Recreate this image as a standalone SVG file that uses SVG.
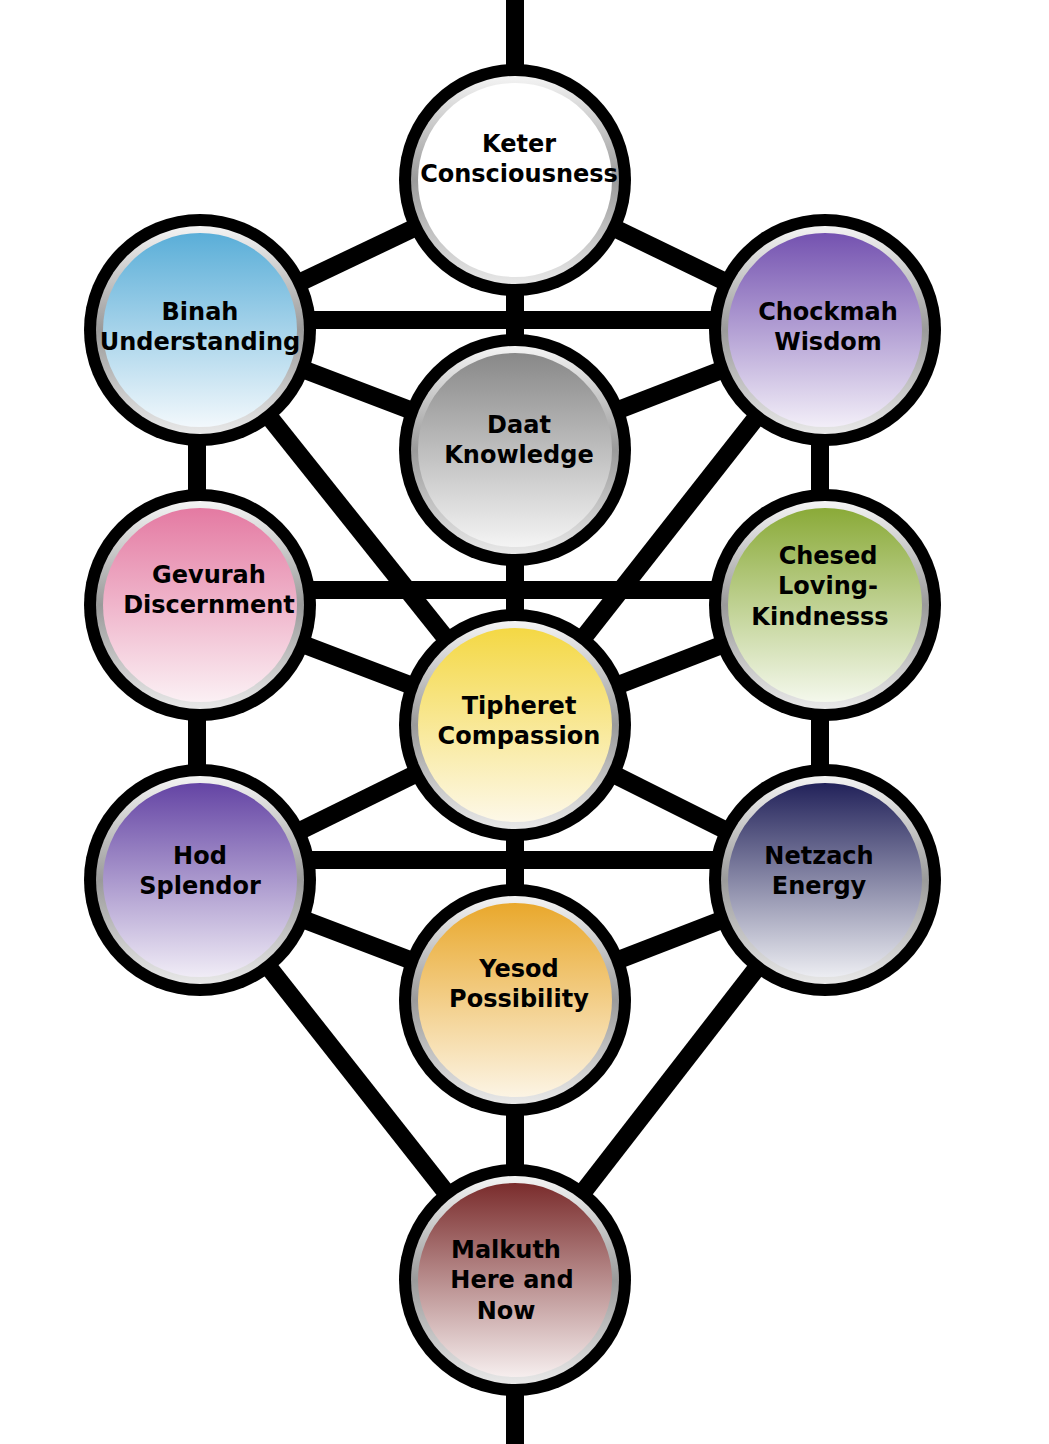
<svg xmlns="http://www.w3.org/2000/svg" width="1049" height="1444" viewBox="0 0 1049 1444">
<style>
.e{stroke:#000;stroke-width:18;fill:none}
.o{fill:#000}
.r{fill:url(#ring)}
text{font-family:"DejaVu Sans",Verdana,sans-serif;font-weight:bold;font-size:24px;fill:#000;text-anchor:middle}
</style>
<defs>
<linearGradient id="ring" x1="0" y1="0" x2="0" y2="1"><stop offset="0" stop-color="#f4f4f4"/><stop offset="0.5" stop-color="#9a9a9a"/><stop offset="1" stop-color="#e8e8e8"/></linearGradient>
<linearGradient id="gK" x1="0" y1="0" x2="0" y2="1"><stop offset="0" stop-color="#fff"/><stop offset="1" stop-color="#fff"/></linearGradient>
<linearGradient id="gB" x1="0" y1="0" x2="0" y2="1"><stop offset="0" stop-color="#5aaed8"/><stop offset="1" stop-color="#f2f8fc"/></linearGradient>
<linearGradient id="gC" x1="0" y1="0" x2="0" y2="1"><stop offset="0" stop-color="#7452b0"/><stop offset="1" stop-color="#f2eef8"/></linearGradient>
<linearGradient id="gD" x1="0" y1="0" x2="0" y2="1"><stop offset="0" stop-color="#888"/><stop offset="1" stop-color="#f4f4f4"/></linearGradient>
<linearGradient id="gG" x1="0" y1="0" x2="0" y2="1"><stop offset="0" stop-color="#e47aa2"/><stop offset="1" stop-color="#fbf0f4"/></linearGradient>
<linearGradient id="gH" x1="0" y1="0" x2="0" y2="1"><stop offset="0" stop-color="#8aaa38"/><stop offset="1" stop-color="#f4f8ec"/></linearGradient>
<linearGradient id="gT" x1="0" y1="0" x2="0" y2="1"><stop offset="0" stop-color="#f4d844"/><stop offset="1" stop-color="#fdf8e8"/></linearGradient>
<linearGradient id="gO" x1="0" y1="0" x2="0" y2="1"><stop offset="0" stop-color="#6444a4"/><stop offset="1" stop-color="#f0ecf6"/></linearGradient>
<linearGradient id="gN" x1="0" y1="0" x2="0" y2="1"><stop offset="0" stop-color="#22225a"/><stop offset="1" stop-color="#ecedf2"/></linearGradient>
<linearGradient id="gY" x1="0" y1="0" x2="0" y2="1"><stop offset="0" stop-color="#e9a82c"/><stop offset="1" stop-color="#fcf4e4"/></linearGradient>
<linearGradient id="gM" x1="0" y1="0" x2="0" y2="1"><stop offset="0" stop-color="#7a2c2c"/><stop offset="1" stop-color="#f6eeee"/></linearGradient>
</defs>
<g id="connectors">
<line class="e" x1="515" y1="0" x2="515" y2="1444"/>
<line class="e" x1="515" y1="180" x2="200" y2="330"/>
<line class="e" x1="515" y1="180" x2="825" y2="330"/>
<line class="e" x1="200" y1="320" x2="825" y2="320"/>
<line class="e" x1="200" y1="330" x2="515" y2="450"/>
<line class="e" x1="825" y1="330" x2="515" y2="450"/>
<line class="e" x1="197" y1="330" x2="197" y2="880"/>
<line class="e" x1="820" y1="330" x2="820" y2="880"/>
<line class="e" x1="200" y1="330" x2="515" y2="725"/>
<line class="e" x1="825" y1="330" x2="515" y2="725"/>
<line class="e" x1="200" y1="590" x2="825" y2="590"/>
<line class="e" x1="200" y1="605" x2="515" y2="725"/>
<line class="e" x1="825" y1="605" x2="515" y2="725"/>
<line class="e" x1="200" y1="880" x2="515" y2="725"/>
<line class="e" x1="825" y1="880" x2="515" y2="725"/>
<line class="e" x1="200" y1="860" x2="825" y2="860"/>
<line class="e" x1="200" y1="880" x2="515" y2="1000"/>
<line class="e" x1="825" y1="880" x2="515" y2="1000"/>
<line class="e" x1="200" y1="880" x2="515" y2="1280"/>
<line class="e" x1="825" y1="880" x2="515" y2="1280"/>
</g>
<g id="keter"><circle class="o" cx="515" cy="180" r="116"/><circle class="r" cx="515" cy="180" r="104"/><circle fill="url(#gK)" cx="515" cy="180" r="97"/><text x="519" y="152">Keter</text><text x="519" y="182">Consciousness</text></g>
<g id="binah"><circle class="o" cx="200" cy="330" r="116"/><circle class="r" cx="200" cy="330" r="104"/><circle fill="url(#gB)" cx="200" cy="330" r="97"/><text x="200" y="320">Binah</text><text x="200" y="350">Understanding</text></g>
<g id="chockmah"><circle class="o" cx="825" cy="330" r="116"/><circle class="r" cx="825" cy="330" r="104"/><circle fill="url(#gC)" cx="825" cy="330" r="97"/><text x="828" y="320">Chockmah</text><text x="828" y="350">Wisdom</text></g>
<g id="daat"><circle class="o" cx="515" cy="450" r="116"/><circle class="r" cx="515" cy="450" r="104"/><circle fill="url(#gD)" cx="515" cy="450" r="97"/><text x="519" y="433">Daat</text><text x="519" y="463">Knowledge</text></g>
<g id="gevurah"><circle class="o" cx="200" cy="605" r="116"/><circle class="r" cx="200" cy="605" r="104"/><circle fill="url(#gG)" cx="200" cy="605" r="97"/><text x="209" y="583">Gevurah</text><text x="209" y="613">Discernment</text></g>
<g id="chesed"><circle class="o" cx="825" cy="605" r="116"/><circle class="r" cx="825" cy="605" r="104"/><circle fill="url(#gH)" cx="825" cy="605" r="97"/><text x="828" y="564">Chesed</text><text x="828" y="594">Loving-</text><text x="820" y="625">Kindnesss</text></g>
<g id="tipheret"><circle class="o" cx="515" cy="725" r="116"/><circle class="r" cx="515" cy="725" r="104"/><circle fill="url(#gT)" cx="515" cy="725" r="97"/><text x="519" y="714">Tipheret</text><text x="519" y="744">Compassion</text></g>
<g id="hod"><circle class="o" cx="200" cy="880" r="116"/><circle class="r" cx="200" cy="880" r="104"/><circle fill="url(#gO)" cx="200" cy="880" r="97"/><text x="200" y="864">Hod</text><text x="200" y="894">Splendor</text></g>
<g id="netzach"><circle class="o" cx="825" cy="880" r="116"/><circle class="r" cx="825" cy="880" r="104"/><circle fill="url(#gN)" cx="825" cy="880" r="97"/><text x="819" y="864">Netzach</text><text x="819" y="894">Energy</text></g>
<g id="yesod"><circle class="o" cx="515" cy="1000" r="116"/><circle class="r" cx="515" cy="1000" r="104"/><circle fill="url(#gY)" cx="515" cy="1000" r="97"/><text x="519" y="977">Yesod</text><text x="519" y="1007">Possibility</text></g>
<g id="malkuth"><circle class="o" cx="515" cy="1280" r="116"/><circle class="r" cx="515" cy="1280" r="104"/><circle fill="url(#gM)" cx="515" cy="1280" r="97"/><text x="506" y="1258">Malkuth</text><text x="512" y="1288">Here and</text><text x="506" y="1319">Now</text></g>
</svg>
